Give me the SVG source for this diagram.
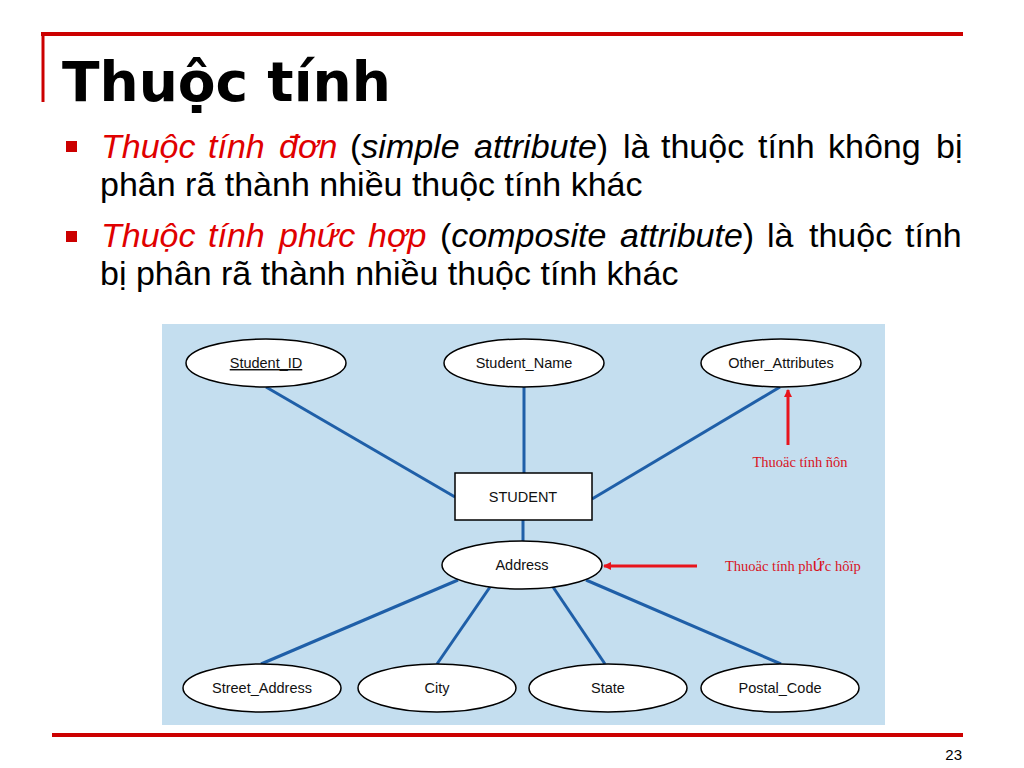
<svg xmlns="http://www.w3.org/2000/svg" width="1024" height="768" viewBox="0 0 1024 768">
<style>
.body{font-family:"Liberation Sans",Arial,sans-serif;font-size:34px;fill:#000}
.it{font-style:italic}
.red{fill:#E00000}
.node ellipse{fill:#fff;stroke:#000;stroke-width:1.5}
.node rect{fill:#fff;stroke:#000;stroke-width:1.5}
.lbl{font-family:"Liberation Sans",Arial,sans-serif;font-size:14.5px;fill:#111;text-anchor:middle}
.conn line{stroke:#1F5FA8;stroke-width:3}
.note{font-family:"Liberation Serif","Times New Roman",serif;font-size:14.5px;fill:#D8141E}
.arr{stroke:#E8141C;stroke-width:3;fill:none}
</style>
<defs>
<marker id="ah" markerWidth="8" markerHeight="8" refX="7" refY="4" orient="auto" markerUnits="userSpaceOnUse">
<path d="M0,0 L8,4 L0,8 Z" fill="#E8141C"/>
</marker>
</defs>
<rect width="1024" height="768" fill="#fff"/>
<!-- frame lines -->
<line x1="41" y1="34" x2="963" y2="34" stroke="#CC0000" stroke-width="4"/>
<line x1="43" y1="33" x2="43" y2="102" stroke="#CC0000" stroke-width="3"/>
<line x1="52" y1="735" x2="963" y2="735" stroke="#CC0000" stroke-width="4"/>
<text x="62" y="101" font-family="'DejaVu Sans',Verdana,sans-serif" font-weight="bold" font-size="55" fill="#000">Thuộc tính</text>

<!-- bullet 1 -->
<rect x="66" y="141" width="11" height="11" fill="#CC0000"/>
<text class="body" y="158"><tspan class="it red" x="101">Thuộc</tspan><tspan class="it red" x="208">tính</tspan><tspan class="it red" x="279">đơn</tspan><tspan x="350">(</tspan><tspan class="it">simple</tspan><tspan class="it" x="474">attribute</tspan><tspan>)</tspan><tspan x="623">là</tspan><tspan x="661">thuộc</tspan><tspan x="758">tính</tspan><tspan x="828">không</tspan><tspan x="936">bị</tspan></text>
<text class="body" x="100" y="196">phân rã thành nhiều thuộc tính khác</text>

<!-- bullet 2 -->
<rect x="66" y="231" width="11" height="11" fill="#CC0000"/>
<text class="body" y="247"><tspan class="it red" x="101">Thuộc</tspan><tspan class="it red" x="208">tính</tspan><tspan class="it red" x="279">phức</tspan><tspan class="it red" x="368">hợp</tspan><tspan x="440">(</tspan><tspan class="it">composite</tspan><tspan class="it" x="620">attribute</tspan><tspan>)</tspan><tspan x="767">là</tspan><tspan x="809">thuộc</tspan><tspan x="905">tính</tspan></text>
<text class="body" x="100" y="285">bị phân rã thành nhiều thuộc tính khác</text>

<!-- diagram panel -->
<rect x="162" y="324" width="723" height="401" fill="#C4DEEF"/>

<g class="conn" id="connectors">
<line x1="266" y1="387" x2="455" y2="497"/>
<line x1="524" y1="387" x2="524" y2="473"/>
<line x1="780" y1="387" x2="592" y2="499"/>
<line x1="523" y1="520" x2="523" y2="541"/>
<line x1="458" y1="580" x2="261" y2="664"/>
<line x1="490" y1="587" x2="437" y2="664"/>
<line x1="553" y1="587" x2="605" y2="664"/>
<line x1="586" y1="580" x2="781" y2="664"/>
</g>

<g class="node" id="student_id"><ellipse cx="266" cy="363" rx="80" ry="24"/><text class="lbl" x="266" y="368" text-decoration="underline">Student_ID</text></g>
<g class="node" id="student_name"><ellipse cx="524" cy="363" rx="80" ry="24"/><text class="lbl" x="524" y="368">Student_Name</text></g>
<g class="node" id="other_attributes"><ellipse cx="781" cy="363" rx="80" ry="24"/><text class="lbl" x="781" y="368">Other_Attributes</text></g>
<g class="node" id="student"><rect x="455" y="473" width="137" height="47"/><text class="lbl" x="523" y="502">STUDENT</text></g>
<g class="node" id="address"><ellipse cx="522" cy="565" rx="80" ry="24"/><text class="lbl" x="522" y="570">Address</text></g>
<g class="node" id="street_address"><ellipse cx="262" cy="688" rx="79" ry="24"/><text class="lbl" x="262" y="693">Street_Address</text></g>
<g class="node" id="city"><ellipse cx="437" cy="688" rx="79" ry="24"/><text class="lbl" x="437" y="693">City</text></g>
<g class="node" id="state"><ellipse cx="608" cy="688" rx="79" ry="24"/><text class="lbl" x="608" y="693">State</text></g>
<g class="node" id="postal_code"><ellipse cx="780" cy="688" rx="79" ry="24"/><text class="lbl" x="780" y="693">Postal_Code</text></g>

<!-- annotations -->
<g id="note_simple">
<line class="arr" x1="788" y1="445" x2="788" y2="390" marker-end="url(#ah)"/>
<text class="note" x="800" y="467" text-anchor="middle">Thuoäc tính ñôn</text>
</g>
<g id="note_composite">
<line class="arr" x1="697" y1="566" x2="604" y2="566" marker-end="url(#ah)"/>
<text class="note" x="725" y="571">Thuoäc tính ph<tspan font-family="'Liberation Sans',Arial,sans-serif" font-size="18">ứ</tspan>c hôïp</text>
</g>

<text x="962" y="760" font-family="'Liberation Sans',Arial,sans-serif" font-size="15" fill="#000" text-anchor="end">23</text>
</svg>
